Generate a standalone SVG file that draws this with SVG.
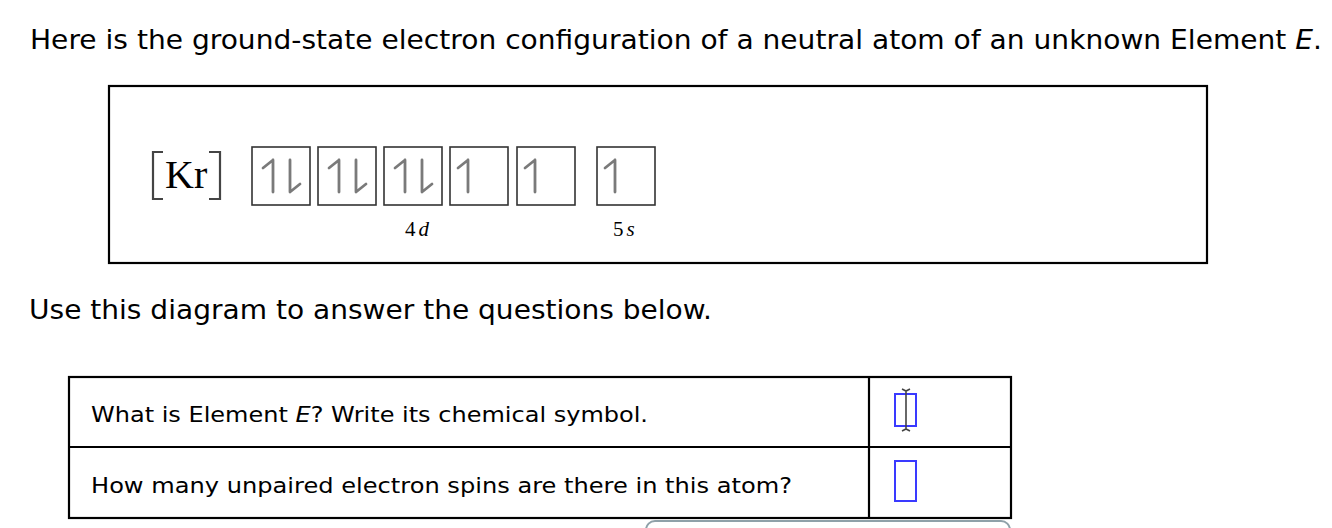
<svg xmlns="http://www.w3.org/2000/svg" width="1332" height="528" viewBox="0 0 1332 528">
<style>
.sans{font-family:"DejaVu Sans","Verdana",sans-serif;fill:#000}
.serif{font-family:"Liberation Serif","Times New Roman",serif;fill:#000}
.orb{fill:#fff;stroke:#333;stroke-width:1.6}
.arr{fill:none;stroke:#7a7a7a;stroke-width:2.8;stroke-linecap:round;stroke-linejoin:round}
.frame{fill:none;stroke:#000;stroke-width:2.2}
.inp{fill:#fff;stroke:#3a3aff;stroke-width:2}
.brk{fill:none;stroke:#444;stroke-width:2.2}
</style>
<defs>
<path id="up" class="arr" d="M0,13 L0,45 M0,13 L-10,21"/>
<path id="dn" class="arr" d="M0,13 L0,45 M0,45 L10,37"/>
</defs>
<rect width="1332" height="528" fill="#fff"/>
<text id="heading" class="sans" x="30" y="49" font-size="27" textLength="1292" lengthAdjust="spacingAndGlyphs">Here is the ground-state electron configuration of a neutral atom of an unknown Element <tspan font-style="italic">E</tspan>.</text>

<g id="config-box">
<rect class="frame" x="109" y="86" width="1098" height="177"/>
<g id="kr">
<path class="brk" d="M163,152 L153,152 L153,199 L163,199"/>
<text class="serif" x="165" y="188" font-size="40">Kr</text>
<path class="brk" d="M209,152 L220,152 L220,199 L209,199"/>
</g>
<g id="orb4d-1"><rect class="orb" x="252" y="147" width="58" height="58"/><use href="#up" x="273" y="147"/><use href="#dn" x="290" y="147"/></g>
<g id="orb4d-2"><rect class="orb" x="318" y="147" width="58" height="58"/><use href="#up" x="339" y="147"/><use href="#dn" x="356" y="147"/></g>
<g id="orb4d-3"><rect class="orb" x="384" y="147" width="58" height="58"/><use href="#up" x="405" y="147"/><use href="#dn" x="422" y="147"/></g>
<g id="orb4d-4"><rect class="orb" x="450" y="147" width="58" height="58"/><use href="#up" x="468" y="147"/></g>
<g id="orb4d-5"><rect class="orb" x="517" y="147" width="58" height="58"/><use href="#up" x="535" y="147"/></g>
<g id="orb5s"><rect class="orb" x="597" y="147" width="58" height="58"/><use href="#up" x="615" y="147"/></g>
<text class="serif" x="405" y="236" font-size="21">4<tspan dx="3" font-style="italic">d</tspan></text>
<text class="serif" x="613" y="236" font-size="21">5<tspan dx="3" font-style="italic">s</tspan></text>
</g>

<text id="instr" class="sans" x="29" y="319" font-size="26" textLength="683" lengthAdjust="spacingAndGlyphs">Use this diagram to answer the questions below.</text>

<g id="table">
<rect class="frame" x="69" y="377" width="942" height="141"/>
<line x1="69" y1="447" x2="1011" y2="447" stroke="#000" stroke-width="2.2"/>
<line x1="869" y1="377" x2="869" y2="518" stroke="#000" stroke-width="2.2"/>
<text class="sans" x="91" y="422" font-size="21" textLength="557" lengthAdjust="spacingAndGlyphs">What is Element <tspan font-style="italic">E</tspan>? Write its chemical symbol.</text>
<text class="sans" x="91" y="493" font-size="21" textLength="701" lengthAdjust="spacingAndGlyphs">How many unpaired electron spins are there in this atom?</text>
<g id="input1">
<rect class="inp" x="895" y="394" width="21" height="32"/>
<path d="M906,390 L906,430 M902,389 L906,391 L910,389 M902,431 L906,429 L910,431" fill="none" stroke="#444" stroke-width="1.6"/>
</g>
<g id="input2"><rect class="inp" x="895" y="461" width="21" height="40"/></g>
</g>
<rect id="bottom-btn" x="646" y="521" width="364" height="30" rx="9" fill="#fff" stroke="#8fa1a9" stroke-width="2"/>
</svg>
